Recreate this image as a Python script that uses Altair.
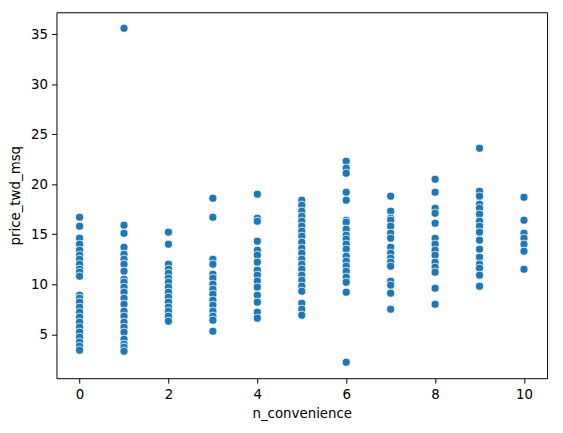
import pandas as pd
import altair as alt

# price per square metre, grouped by number of convenience stores nearby
price_0 = [16.7, 15.8, 14.6, 14.0, 13.4, 12.9, 12.5, 12.0, 11.5, 11.2, 10.8,
           8.9, 8.6, 8.2, 7.7, 7.2, 6.7, 6.2, 5.7, 5.2, 4.7, 4.2, 3.8, 3.4]
price_1 = [35.6, 15.9, 15.1, 13.7, 13.0, 12.5, 12.0, 11.3, 10.5, 10.2, 9.7, 9.2,
           8.6, 8.0, 7.3, 6.8, 6.2, 5.7, 5.2, 4.5, 4.0, 3.7, 3.3]
price_2 = [15.2, 14.0, 12.0, 11.5, 11.1, 10.6, 10.2, 9.7, 9.2, 8.7, 8.2, 7.7,
           7.3, 6.8, 6.3]
price_3 = [18.6, 16.7, 12.5, 12.0, 11.0, 10.6, 10.0, 9.5, 9.0, 8.4, 7.9, 7.3,
           6.8, 6.4, 5.3]
price_4 = [19.0, 16.6, 16.3, 14.3, 13.4, 12.9, 12.2, 11.4, 10.9, 10.3, 9.7, 8.9,
           8.2, 7.2, 6.6]
price_5 = [18.4, 17.9, 17.3, 16.8, 16.3, 15.8, 15.3, 14.8, 14.2, 13.6, 13.1,
           12.5, 12.0, 11.5, 10.9, 10.4, 9.8, 9.3, 8.1, 7.5, 6.9]
price_6 = [22.3, 21.6, 21.1, 19.2, 18.4, 16.4, 16.2, 15.5, 14.9, 14.5, 14.0,
           13.5, 12.8, 12.3, 11.8, 11.3, 10.7, 10.2, 9.2, 2.2]
price_7 = [18.8, 17.3, 16.6, 16.4, 15.8, 15.1, 14.6, 13.7, 13.1, 12.6, 12.2,
           11.8, 10.3, 9.9, 9.1, 7.5]
price_8 = [20.5, 19.2, 17.6, 17.1, 16.1, 14.6, 14.0, 13.4, 12.9, 12.2, 11.7,
           11.2, 9.6, 8.0]
price_9 = [23.6, 19.3, 18.8, 18.0, 17.6, 17.0, 16.3, 15.8, 15.2, 14.4, 13.5,
           12.7, 12.0, 11.6, 10.9, 9.8]
price_10 = [18.7, 16.4, 15.1, 14.6, 14.0, 13.3, 11.5]

groups = [price_0, price_1, price_2, price_3, price_4, price_5,
          price_6, price_7, price_8, price_9, price_10]

rows = []
for n, prices in enumerate(groups):
    for p in prices:
        rows.append({"n_convenience": n, "price_twd_msq": p})
df = pd.DataFrame(rows)

font = "DejaVu Sans"

chart = alt.Chart(df).mark_point(
    filled=True, shape="circle", size=66, color="#1f77b4",
    stroke="white", strokeWidth=0.8, opacity=1
).encode(
    alt.X("n_convenience:Q",
          scale=alt.Scale(domain=[-0.52, 10.52], nice=False, zero=False),
          axis=alt.Axis(values=[0, 2, 4, 6, 8, 10], title="n_convenience",
                        titlePadding=6)),
    alt.Y("price_twd_msq:Q",
          scale=alt.Scale(domain=[0.6, 37.2], nice=False, zero=False),
          axis=alt.Axis(values=[5, 10, 15, 20, 25, 30, 35], title="price_twd_msq",
                        titlePadding=8)),
).properties(
    width=496, height=370,
    autosize=alt.AutoSizeParams(type="none"),
    padding={"left": 49, "top": 2, "right": 8, "bottom": 45},
).configure_view(
    stroke="black", strokeWidth=1
).configure_axis(
    grid=False, domain=False, ticks=True, tickSize=5, tickColor="black",
    tickWidth=1, labelFont=font, labelFontSize=13.5, labelColor="black",
    labelPadding=4, titleFont=font, titleFontSize=13.5, titleFontWeight="normal",
    titleColor="black"
)

chart.save("out.html", embed_options={"renderer": "svg", "actions": False})
